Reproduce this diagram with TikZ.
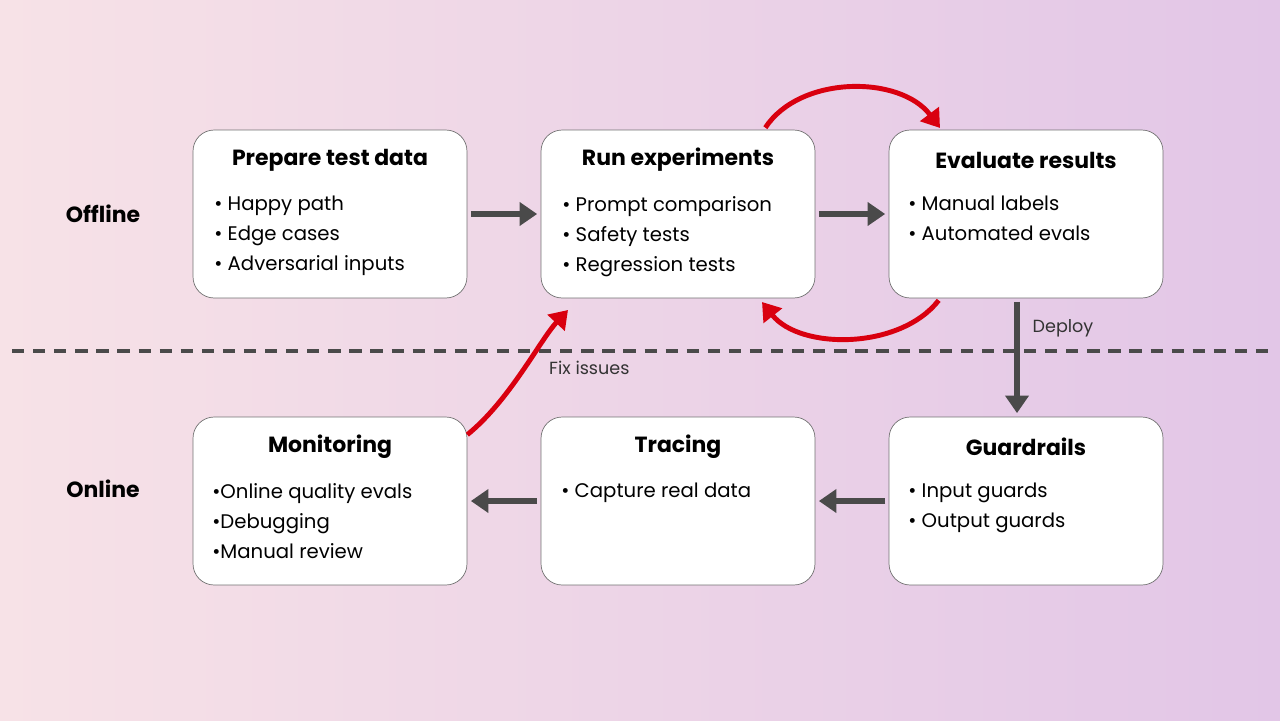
\documentclass[tikz,border=0pt]{standalone}
\usepackage{fontspec}
\setmainfont{Poppins}
\usetikzlibrary{arrows.meta,positioning}
\definecolor{bgleft}{HTML}{F7E2E7}
\definecolor{bgright}{HTML}{E2C6E7}
\definecolor{flowgray}{HTML}{4A4A4A}
\definecolor{fixred}{HTML}{D9000F}
\tikzset{
  stage/.style={draw=black!55, fill=white, rounded corners=12pt, minimum width=5.48cm, minimum height=3.36cm},
  title/.style={font=\bfseries\fontsize{12.5}{14}\selectfont},
  items/.style={anchor=north west, align=left, font=\fontsize{11.2}{17}\selectfont, inner sep=0pt},
  flow/.style={flowgray, line width=3.2pt, -{Triangle[length=10pt,width=13pt]}, shorten <=2pt, shorten >=2pt},
  loop/.style={fixred, line width=2.8pt, -{Triangle[length=10pt,width=13pt]}},
  side/.style={font=\bfseries\fontsize{12.5}{14}\selectfont}
}
\begin{document}
\begin{tikzpicture}[x=0.02cm,y=-0.02cm]
  \useasboundingbox (0,0) rectangle (1280,720);
  \shade[left color=bgleft, right color=bgright] (0,0) rectangle (1280,720);

  % offline row
  \node[stage] (prep) at (330,214) {};
  \node[stage] (run)  at (678,214) {};
  \node[stage] (eval) at (1026,214) {};
  % online row
  \node[stage] (mon)   at (330,501) {};
  \node[stage] (trace) at (678,501) {};
  \node[stage] (guard) at (1026,501) {};

  \node[title] (prept) at (330,160) {Prepare test data};
  \node[title] (runt)  at (678,160) {Run experiments};
  \node[title] (evalt) at (1026,160) {Evaluate results};
  \node[title] (mont)  at (330,447) {Monitoring};
  \node[title] (tracet) at (678,447) {Tracing};
  \node[title] (guardt) at (1026,447) {Guardrails};

  \node[items] (prepi) at (214,196) {• Happy path\\• Edge cases\\• Adversarial inputs};
  \node[items] (runi)  at (562,196) {• Prompt comparison\\• Safety tests\\• Regression tests};
  \node[items] (evali) at (908,196) {• Manual labels\\• Automated evals};
  \node[items] (moni)  at (212,483) {•Online quality evals\\•Debugging\\•Manual review};
  \node[items] (tracei) at (561,483) {• Capture real data};
  \node[items] (guardi) at (908,483) {• Input guards\\• Output guards};

  \node[side] (off) at (103,214) {Offline};
  \node[side] (on)  at (103,489) {Online};

  \draw[flowgray, line width=2.2pt, dash pattern=on 7pt off 5pt] (12,351) -- (1268,351);

  \draw[flow] (prep) -- (run);
  \draw[flow] (run) -- (eval);
  \draw[flow] (guard) -- (trace);
  \draw[flow] (trace) -- (mon);
  \draw[flow] (eval.south -| 1017,0) -- (guard.north -| 1017,0)
    node[pos=0.25, right=4pt, font=\fontsize{10}{12}\selectfont, text=black!80] (dep) {Deploy};

  \draw[loop] (run.north east) ++(-50,-2) .. controls (800,75) and (900,75) .. (940,128);
  \draw[loop] (eval.south west) ++(50,2) .. controls (900,350) and (800,350) .. (762,302);
  \draw[loop] (mon.north east) ++(0,18) .. controls (510,400) and (540,340) .. (568,310);
  \node[font=\fontsize{10}{12}\selectfont, text=black!80, anchor=west] (fix) at (543,368) {Fix issues};
\end{tikzpicture}
\end{document}
